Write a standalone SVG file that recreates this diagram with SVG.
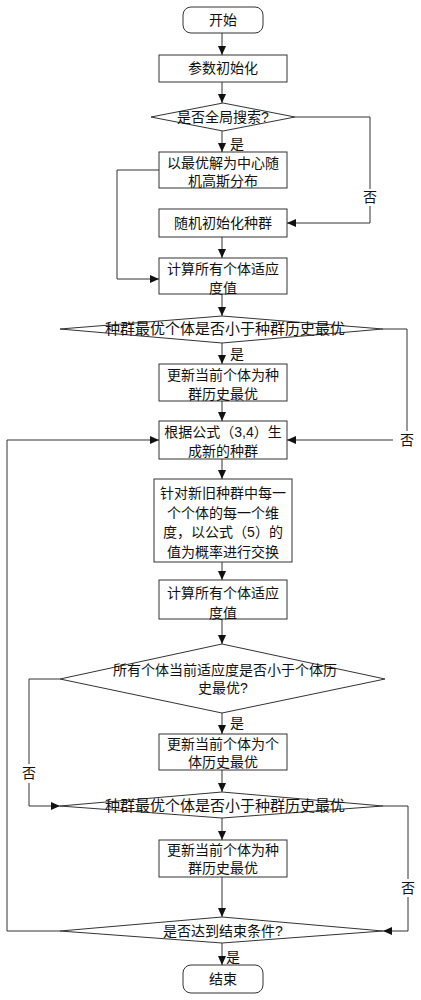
<svg xmlns="http://www.w3.org/2000/svg" width="421" height="1000" viewBox="0 0 421 1000">
<style>
.s{fill:#fff;stroke:#333;stroke-width:1}
.t{font-family:"Liberation Sans","Noto Sans CJK SC",sans-serif;font-size:14px;fill:#111;text-anchor:middle}
.c{fill:none;stroke:#333;stroke-width:1}
.lb{font-family:"Liberation Sans","Noto Sans CJK SC",sans-serif;font-size:14px;fill:#111;text-anchor:middle}
</style>
<defs>
<marker id="a" markerWidth="10" markerHeight="8" refX="9" refY="4" orient="auto" markerUnits="userSpaceOnUse">
<path d="M0,0 L9,4 L0,8 Z" fill="#111"/>
</marker>
</defs>
<g id="connectors">
<path class="c" d="M222,33 V55" marker-end="url(#a)"/>
<path class="c" d="M222,82 V103" marker-end="url(#a)"/>
<path class="c" d="M222,131 V152" marker-end="url(#a)"/>
<path class="c" d="M295,117 H370 V189"/>
<path class="c" d="M370,206 V223 H287" marker-end="url(#a)"/>
<path class="c" d="M159,170 H117 V279 H159" marker-end="url(#a)"/>
<path class="c" d="M222,237 V258" marker-end="url(#a)"/>
<path class="c" d="M222,294 V316" marker-end="url(#a)"/>
<path class="c" d="M222,343 V364" marker-end="url(#a)"/>
<path class="c" d="M383,329 H407 V431"/>
<path class="c" d="M393,440 H287" marker-end="url(#a)"/>
<path class="c" d="M222,401 V421" marker-end="url(#a)"/>
<path class="c" d="M222,459 V479" marker-end="url(#a)"/>
<path class="c" d="M222,562 V580" marker-end="url(#a)"/>
<path class="c" d="M222,619 V644" marker-end="url(#a)"/>
<path class="c" d="M60,679 H29 V764"/>
<path class="c" d="M29,783 V806 H60" marker-end="url(#a)"/>
<path class="c" d="M222,713 V734" marker-end="url(#a)"/>
<path class="c" d="M222,770 V792" marker-end="url(#a)"/>
<path class="c" d="M383,806 H408 V879"/>
<path class="c" d="M408,897 V931 H383" marker-end="url(#a)"/>
<path class="c" d="M222,818 V840" marker-end="url(#a)"/>
<path class="c" d="M222,877 V917" marker-end="url(#a)"/>
<path class="c" d="M60,931 H7 V440 H159" marker-end="url(#a)"/>
<path class="c" d="M222,943 V965" marker-end="url(#a)"/>
<text class="lb" x="237" y="149">是</text>
<text class="lb" x="370" y="202">否</text>
<text class="lb" x="237" y="359">是</text>
<text class="lb" x="407" y="445">否</text>
<text class="lb" x="237" y="728">是</text>
<text class="lb" x="29" y="778">否</text>
<text class="lb" x="408" y="893">否</text>
<text class="lb" x="233" y="962">是</text>
</g>
<g id="start">
<rect class="s" x="183" y="7" width="80" height="26" rx="8"/>
<text class="t" x="223" y="25">开始</text>
</g>
<g id="init">
<rect class="s" x="159" y="55" width="128" height="27"/>
<text class="t" x="223" y="73">参数初始化</text>
</g>
<g id="d1">
<polygon class="s" points="151,117 223,103 295,117 223,131"/>
<text class="t" x="223" y="122">是否全局搜索?</text>
</g>
<g id="gauss">
<rect class="s" x="159" y="152" width="128" height="36"/>
<text class="t" x="223" y="168">以最优解为中心随</text>
<text class="t" x="223" y="186">机高斯分布</text>
</g>
<g id="randinit">
<rect class="s" x="159" y="209" width="128" height="28"/>
<text class="t" x="223" y="228">随机初始化种群</text>
</g>
<g id="fit1">
<rect class="s" x="159" y="258" width="128" height="36"/>
<text class="t" x="223" y="274">计算所有个体适应</text>
<text class="t" x="223" y="293">度值</text>
</g>
<g id="d2">
<polygon class="s" points="60,329 222,316 383,329 222,343"/>
<text class="t" x="225" y="334" style="font-size:15px">种群最优个体是否小于种群历史最优</text>
</g>
<g id="upd1">
<rect class="s" x="159" y="364" width="128" height="37"/>
<text class="t" x="223" y="380">更新当前个体为种</text>
<text class="t" x="223" y="399">群历史最优</text>
</g>
<g id="gen">
<rect class="s" x="159" y="421" width="128" height="38"/>
<text class="t" x="223" y="437">根据公式（3,4）生</text>
<text class="t" x="223" y="456">成新的种群</text>
</g>
<g id="cross">
<rect class="s" x="154" y="479" width="138" height="83"/>
<text class="t" x="223" y="498">针对新旧种群中每一</text>
<text class="t" x="223" y="518">个个体的每一个维</text>
<text class="t" x="223" y="537">度，以公式（5）的</text>
<text class="t" x="223" y="557">值为概率进行交换</text>
</g>
<g id="fit2">
<rect class="s" x="159" y="580" width="128" height="39"/>
<text class="t" x="223" y="598">计算所有个体适应</text>
<text class="t" x="223" y="618">度值</text>
</g>
<g id="d3">
<polygon class="s" points="60,679 222,644 385,679 222,713"/>
<text class="t" x="225" y="675">所有个体当前适应度是否小于个体历</text>
<text class="t" x="223" y="693">史最优?</text>
</g>
<g id="upd2">
<rect class="s" x="159" y="734" width="128" height="36"/>
<text class="t" x="223" y="749">更新当前个体为个</text>
<text class="t" x="223" y="767">体历史最优</text>
</g>
<g id="d4">
<polygon class="s" points="60,806 222,792 383,806 222,818"/>
<text class="t" x="225" y="811" style="font-size:15px">种群最优个体是否小于种群历史最优</text>
</g>
<g id="upd3">
<rect class="s" x="159" y="840" width="128" height="37"/>
<text class="t" x="223" y="855">更新当前个体为种</text>
<text class="t" x="223" y="873">群历史最优</text>
</g>
<g id="d5">
<polygon class="s" points="60,931 222,917 383,931 222,943"/>
<text class="t" x="223" y="936">是否达到结束条件?</text>
</g>
<g id="end">
<rect class="s" x="183" y="965" width="80" height="28" rx="8"/>
<text class="t" x="223" y="984">结束</text>
</g>
</svg>
